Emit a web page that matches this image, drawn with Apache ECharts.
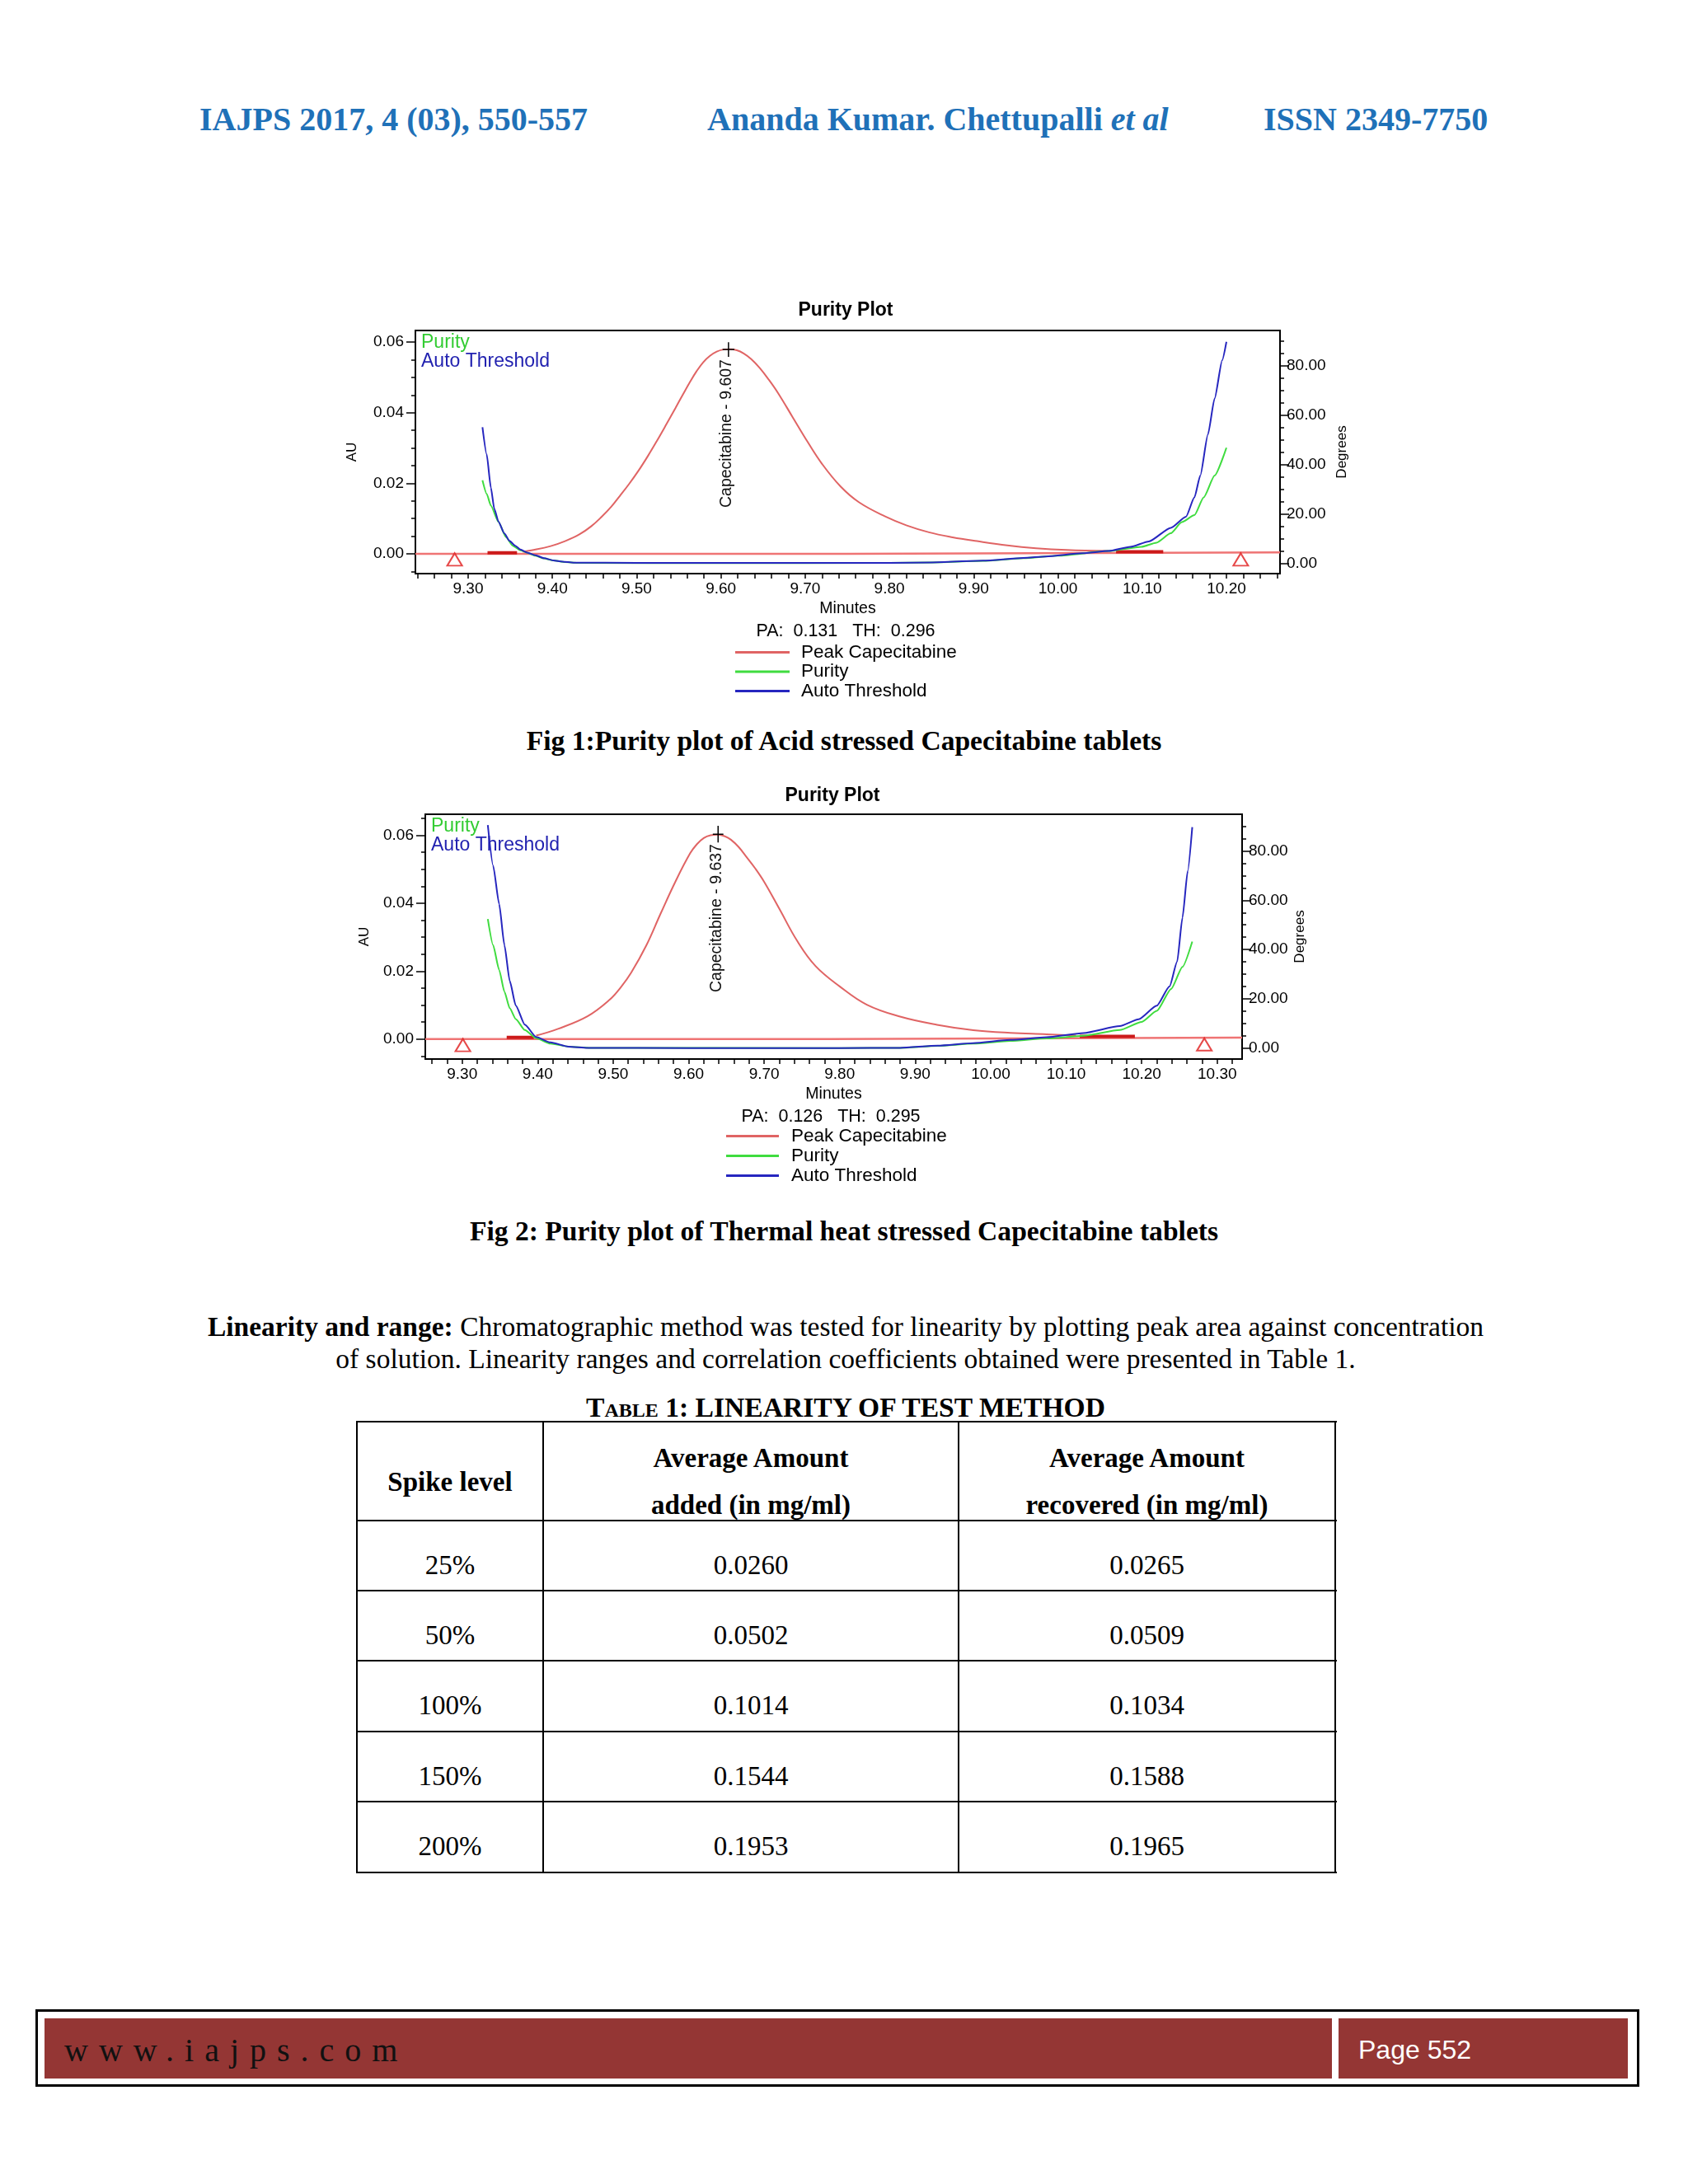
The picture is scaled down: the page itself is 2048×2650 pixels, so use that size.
<!DOCTYPE html>
<html>
<head>
<meta charset="utf-8">
<title>Purity plots - IAJPS page 552</title>
<script src="https://cdn.jsdelivr.net/npm/echarts@6.0.0/dist/echarts.min.js"></script>
<style>
  html, body { margin:0; padding:0; background:#fff; }
  #page { position:relative; width:2048px; height:2650px; background:#fff; overflow:hidden;
          font-family:"Liberation Serif","Times New Roman",serif; color:#000; }
  .t { position:absolute; white-space:nowrap; line-height:1; }
  .hdr { font-size:40px; font-weight:bold; color:#1f71b8; top:125px; }
  .cap { left:0; width:2048px; text-align:center; font-size:33.6px; font-weight:bold; }
  .para { left:2px; width:2048px; text-align:center; font-size:33.5px; }
  .chart { position:absolute; left:0; width:2048px; }
  .hl { position:absolute; height:2px; background:#000; }
  .vl { position:absolute; width:2px; background:#000; }
  .cell { position:absolute; font-size:33px; text-align:center; transform:translate(-50%,-50%);
          white-space:nowrap; line-height:1; }
</style>
</head>
<body>
<div id="page">
  <div class="t hdr" style="left:242px;">IAJPS 2017, 4 (03), 550-557</div>
  <div class="t hdr" style="left:858px;">Ananda Kumar. Chettupalli <i>et al</i></div>
  <div class="t hdr" style="left:1533px;">ISSN 2349-7750</div>

  <div id="chart1" class="chart" style="top:330px;height:540px;"></div>
  <div class="t cap" style="top:882px;">Fig 1:Purity plot of Acid stressed Capecitabine tablets</div>

  <div id="chart2" class="chart" style="top:930px;height:530px;"></div>
  <div class="t cap" style="top:1477px;">Fig 2: Purity plot of Thermal heat stressed Capecitabine tablets</div>

  <div class="t para" style="top:1593px;"><b>Linearity and range:</b> Chromatographic method was tested for linearity by plotting peak area against concentration</div>
  <div class="t para" style="top:1632px;">of solution. Linearity ranges and correlation coefficients obtained were presented in Table 1.</div>

  <div class="t" style="left:2px;width:2048px;text-align:center;top:1691px;font-size:33.6px;font-weight:bold;"><span style="font-variant:small-caps;">Table</span> 1: LINEARITY OF TEST METHOD</div>

  <div style="position:absolute;left:43px;top:2438px;width:1940px;height:88px;border:3px solid #000;"></div>
  <div style="position:absolute;left:54px;top:2449px;width:1562px;height:73px;background:#943634;"></div>
  <div style="position:absolute;left:1624px;top:2449px;width:351px;height:73px;background:#943634;"></div>
  <div class="t" style="left:78px;top:2468px;font-size:40px;letter-spacing:13px;color:#111;">www.iajps.com</div>
  <div class="t" style="left:1648px;top:2471px;font-size:32px;color:#fff;font-family:'Liberation Sans',Arial,sans-serif;">Page 552</div>
</div>

<script>
// ================= DATA =================
// Tick labels (minutes / AU / degrees)
const xMajor1 = [9.30, 9.40, 9.50, 9.60, 9.70, 9.80, 9.90, 10.00, 10.10, 10.20];
const xMajor2 = [9.30, 9.40, 9.50, 9.60, 9.70, 9.80, 9.90, 10.00, 10.10, 10.20, 10.30];
const auMajor = [0.00, 0.02, 0.04, 0.06];
const degMajor = [0, 20, 40, 60, 80];

// ---- Fig 1 (acid stressed) ----
// Peak Capecitabine [minutes, AU]
const peak1 = [
  [9.365,0.0006],[9.375,0.0010],[9.398,0.0022],[9.415,0.0036],[9.432,0.0055],[9.446,0.0078],
  [9.458,0.0104],[9.470,0.0134],[9.480,0.0164],[9.491,0.0198],[9.502,0.0235],[9.513,0.0276],
  [9.524,0.0320],[9.535,0.0366],[9.546,0.0413],[9.555,0.0452],[9.563,0.0486],[9.571,0.0517],
  [9.579,0.0543],[9.587,0.0561],[9.595,0.0573],[9.603,0.0579],[9.611,0.0580],[9.619,0.0577],
  [9.627,0.0568],[9.636,0.0552],[9.646,0.0527],[9.657,0.0493],[9.668,0.0455],[9.685,0.0388],
  [9.703,0.0317],[9.720,0.0255],[9.742,0.0191],[9.764,0.0146],[9.795,0.0106],[9.820,0.0081],
  [9.847,0.0061],[9.875,0.0047],[9.904,0.0036],[9.940,0.0024],[9.974,0.0016],[10.010,0.0011],
  [10.060,0.0008]
];
// Purity angle [minutes, degrees]
const purity1 = [
  [9.317,33.5],[9.322,28.0],[9.327,23.3],[9.336,16.7],[9.345,10.5],[9.353,7.0],[9.362,5.2],
  [9.370,4.2],[9.380,3.0],[9.390,1.9],[9.401,1.1],[9.415,0.4],[9.430,0.1],[9.600,0.0],
  [9.800,0.1],[9.850,0.3],[9.911,0.9],[9.959,2.0],[10.000,3.0],[10.060,4.9],[10.099,6.6],
  [10.117,8.3],[10.134,12.1],[10.147,16.6],[10.162,19.4],[10.173,26.6],[10.186,35.4],[10.200,46.7]
];
// Auto Threshold [minutes, degrees]
const threshold1 = [
  [9.317,55.0],[9.322,44.0],[9.327,30.5],[9.331,22.0],[9.336,16.8],[9.343,12.0],[9.349,9.0],
  [9.356,7.0],[9.362,5.5],[9.370,4.3],[9.380,3.2],[9.390,2.0],[9.401,1.1],[9.412,0.6],
  [9.425,0.2],[9.500,0.1],[9.700,0.1],[9.800,0.1],[9.850,0.3],[9.911,1.0],[9.959,2.1],
  [9.986,2.7],[10.029,4.0],[10.060,4.9],[10.086,6.6],[10.108,8.8],[10.134,14.3],[10.152,18.8],
  [10.162,26.6],[10.169,35.4],[10.178,52.0],[10.186,66.6],[10.195,82.1],[10.200,89.5]
];
const baseline1 = [[9.2374,0],[9.75,0],[9.75,0.0004],[10.2636,0.0004]];
const segLeft1 = [[9.323,0.0003],[9.358,0.0003]];
const segRight1 = [[10.069,0.0006],[10.125,0.0006]];
const triangles1 = [[9.284,-0.0016],[10.217,-0.0016]];
const peakApex1 = {time: 9.607, low: 0.0558, high: 0.0600, cross: 0.0579, labelAU: 0.0341};
const stats1 = {pa: '0.131', th: '0.296'};

// ---- Fig 2 (thermal heat stressed) ----
const peak2 = [
  [9.398,0.0010],[9.427,0.0030],[9.466,0.0067],[9.495,0.0115],[9.510,0.0152],[9.524,0.0196],
  [9.544,0.0276],[9.563,0.0370],[9.583,0.0466],[9.602,0.0547],[9.611,0.0574],[9.620,0.0592],
  [9.629,0.0600],[9.639,0.0602],[9.648,0.0597],[9.656,0.0587],[9.666,0.0566],[9.676,0.0538],
  [9.688,0.0503],[9.700,0.0463],[9.720,0.0384],[9.744,0.0288],[9.768,0.0215],[9.800,0.0155],
  [9.836,0.0101],[9.880,0.0066],[9.929,0.0042],[9.977,0.0026],[10.026,0.0018],[10.074,0.0014],
  [10.113,0.0010]
];
const purity2 = [
  [9.334,52.4],[9.341,41.8],[9.349,31.8],[9.356,22.9],[9.363,16.2],[9.371,11.8],[9.383,7.3],
  [9.398,4.0],[9.417,1.8],[9.441,0.6],[9.470,0.1],[9.800,0.0],[9.880,0.1],[9.930,0.9],
  [9.977,1.8],[10.026,2.9],[10.074,3.9],[10.123,5.0],[10.171,7.3],[10.200,10.6],[10.220,15.1],
  [10.239,24.0],[10.254,32.9],[10.267,43.2]
];
const threshold2 = [
  [9.334,90.5],[9.341,74.1],[9.349,58.5],[9.356,41.8],[9.363,27.3],[9.371,17.3],[9.383,9.5],
  [9.398,4.5],[9.417,2.3],[9.441,0.6],[9.466,0.1],[9.600,0.0],[9.800,0.0],[9.880,0.1],
  [9.930,1.0],[9.977,2.0],[10.026,3.3],[10.074,4.4],[10.123,6.1],[10.171,8.9],[10.196,11.7],
  [10.220,17.2],[10.237,25.1],[10.247,35.1],[10.254,52.9],[10.261,71.9],[10.267,89.7]
];
const baseline2 = [[9.2512,0],[9.79,0],[9.79,0.0004],[10.333,0.0004]];
const segLeft2 = [[9.359,0.0005],[9.395,0.0005]];
const segRight2 = [[10.118,0.0008],[10.191,0.0008]];
const triangles2 = [[9.301,-0.0018],[10.283,-0.0016]];
const peakApex2 = {time: 9.637, low: 0.0579, high: 0.0628, cross: 0.0603, labelAU: 0.0356};
const stats2 = {pa: '0.126', th: '0.295'};

// ---- Table 1 ----
const spikeLevels = ['25%', '50%', '100%', '150%', '200%'];
const amountAdded = ['0.0260', '0.0502', '0.1014', '0.1544', '0.1953'];
const amountRecovered = ['0.0265', '0.0509', '0.1034', '0.1588', '0.1965'];

// ================= CHARTS =================
function steps(a, b, s) {
  const out = [];
  const n0 = Math.ceil(a / s - 1e-9), n1 = Math.floor(b / s + 1e-9);
  for (let n = n0; n <= n1; n++) out.push(+(n * s).toFixed(5));
  return out;
}
const SANS = 'Liberation Sans, Arial, sans-serif';
const RED = '#e06464', GREEN = '#3fdc3f', BLUE = '#2626bf';

function buildOption(c) {
  const tickStyle = {color: '#000', width: 1.5};
  const axisLineStyle = {color: '#000', width: 2};
  const lineSeries = (name, data, color, width, yIdx, z, extra) => Object.assign({
    name: name, type: 'line', data: data, yAxisIndex: yIdx, symbol: 'none', showSymbol: false,
    lineStyle: {color: color, width: width}, itemStyle: {color: color}, z: z, silent: true,
    animation: false
  }, extra || {});
  const minorAxis = (pos, min, max, step) => ({
    type: 'value', position: pos, min: min, max: max,
    axisLine: {show: false, onZero: false},
    axisTick: {show: true, length: 5, customValues: steps(min, max, step), lineStyle: tickStyle},
    axisLabel: {show: false}, splitLine: {show: false}
  });
  return {
    animation: false,
    textStyle: {fontFamily: SANS},
    grid: Object.assign({show: true, borderColor: '#000', borderWidth: 2, backgroundColor: '#fff', containLabel: false}, c.grid),
    xAxis: {
      type: 'value', min: c.xMin, max: c.xMax,
      name: 'Minutes', nameLocation: 'middle', nameGap: c.minGap,
      nameTextStyle: {fontSize: 19.5, color: '#000', fontFamily: SANS},
      axisLine: {show: true, onZero: false, lineStyle: axisLineStyle},
      axisTick: {show: true, inside: false, length: 6, customValues: steps(c.xMin, c.xMax, 0.02), lineStyle: tickStyle},
      axisLabel: {show: true, customValues: c.xMajor, formatter: v => Number(v).toFixed(2), fontSize: 19, color: '#000', margin: 9, fontFamily: SANS},
      splitLine: {show: false}, minorTick: {show: false}
    },
    yAxis: [
      {
        type: 'value', position: 'left', min: c.auMin, max: c.auMax,
        name: 'AU', nameLocation: 'middle', nameGap: c.auGap,
        nameTextStyle: {fontSize: 17, color: '#000', fontFamily: SANS},
        axisLine: {show: true, onZero: false, lineStyle: axisLineStyle},
        axisTick: {show: true, length: 11, customValues: auMajor, lineStyle: tickStyle},
        axisLabel: {show: true, customValues: auMajor, formatter: v => Number(v).toFixed(2), fontSize: 19, color: '#000', margin: 14, fontFamily: SANS},
        splitLine: {show: false}
      },
      {
        type: 'value', position: 'right', min: c.degMin, max: c.degMax,
        name: 'Degrees', nameLocation: 'middle', nameGap: c.degGap,
        nameTextStyle: {fontSize: 17, color: '#000', fontFamily: SANS},
        axisLine: {show: true, onZero: false, lineStyle: axisLineStyle},
        axisTick: {show: true, length: 11, customValues: degMajor, lineStyle: tickStyle},
        axisLabel: {show: true, customValues: degMajor, formatter: v => Number(v).toFixed(2), fontSize: 19, color: '#000', margin: 8, fontFamily: SANS},
        splitLine: {show: false}
      },
      minorAxis('left', c.auMin, c.auMax, 0.005),
      minorAxis('right', c.degMin, c.degMax, 5)
    ],
    legend: {
      orient: 'vertical', left: c.legend.left, top: c.legend.top, padding: 0,
      itemWidth: c.legend.w, itemHeight: 3, itemGap: c.legend.gap, icon: 'rect',
      selectedMode: false,
      textStyle: {fontSize: 22.5, color: '#000', lineHeight: 21, fontFamily: SANS, padding: [0, 0, 0, c.legend.pad]},
      data: ['Peak Capecitabine', 'Purity', 'Auto Threshold']
    },
    graphic: [
      {type: 'text', x: c.title.x, y: c.title.y, silent: true,
       style: {text: 'Purity Plot', fill: '#000', font: 'bold 23px ' + SANS, align: 'center', verticalAlign: 'middle'}},
      {type: 'text', x: c.inner.x, y: c.inner.y1, silent: true, z: 100,
       style: {text: 'Purity', fill: '#33cc33', font: '23px ' + SANS, align: 'left', verticalAlign: 'middle'}},
      {type: 'text', x: c.inner.x, y: c.inner.y2, silent: true, z: 100,
       style: {text: 'Auto Threshold', fill: '#2222b0', font: '23px ' + SANS, align: 'left', verticalAlign: 'middle'}},
      {type: 'text', x: c.pa.x, y: c.pa.y, silent: true,
       style: {text: 'PA:  ' + c.stats.pa + '   TH:  ' + c.stats.th, fill: '#000', font: '21.5px ' + SANS, align: 'center', verticalAlign: 'middle'}}
    ],
    series: [
      lineSeries('baseline', c.baseline, '#ef7474', 2.5, 0, 1),
      lineSeries('segL', c.segL, '#cc1a1a', 4, 0, 2),
      lineSeries('segR', c.segR, '#cc1a1a', 4, 0, 2),
      lineSeries('Peak Capecitabine', c.peak, RED, 2, 0, 3, {smooth: 0.4}),
      lineSeries('Purity', c.purity, GREEN, 2, 1, 4, {smooth: 0.2, smoothMonotone: 'x'}),
      lineSeries('Auto Threshold', c.threshold, BLUE, 2, 1, 5, {smooth: 0.2, smoothMonotone: 'x'}),
      {
        name: 'triangles', type: 'scatter', yAxisIndex: 0, data: c.triangles, symbol: 'triangle',
        symbolSize: [18, 15], itemStyle: {color: '#fff', borderColor: '#e01c1c', borderWidth: 2}, z: 6, silent: true
      },
      lineSeries('apexV', [[c.apex.time + 0.002, c.apex.low], [c.apex.time + 0.002, c.apex.high]], '#000', 1.5, 0, 7),
      lineSeries('apexH', [[c.apex.time - 0.005, c.apex.cross], [c.apex.time + 0.009, c.apex.cross]], '#000', 1.5, 0, 7),
      {
        name: 'apexLabel', type: 'scatter', yAxisIndex: 0, data: [[c.apex.time, c.apex.labelAU]],
        symbol: 'circle', symbolSize: 2, itemStyle: {color: 'rgba(255,255,255,0)'}, z: 8, silent: true,
        label: {show: true, position: 'inside', rotate: 90, formatter: c.apexText, fontSize: 19.5,
                color: '#111', fontFamily: SANS, opacity: 1},
        labelLayout: {hideOverlap: false}
      }
    ]
  };
}

const chart1 = echarts.init(document.getElementById('chart1'), null, {renderer: 'canvas'});
chart1.setOption(buildOption({
  grid: {left: 504, top: 71, width: 1049, height: 295},
  xMin: 9.2374, xMax: 10.2636, auMin: -0.0056, auMax: 0.0633, degMin: -4.23, degMax: 94.1,
  xMajor: xMajor1, minGap: 32, auGap: 68, degGap: 67,
  title: {x: 1026, y: 47}, inner: {x: 511, y1: 86, y2: 109}, pa: {x: 1026, y: 436},
  legend: {left: 892, top: 450, w: 66, pad: 9, gap: 0.5},
  stats: stats1, peak: peak1, purity: purity1, threshold: threshold1, baseline: baseline1,
  segL: segLeft1, segR: segRight1, triangles: triangles1, apex: peakApex1,
  apexText: 'Capecitabine - ' + peakApex1.time.toFixed(3)
}));

const chart2 = echarts.init(document.getElementById('chart2'), null, {renderer: 'canvas'});
chart2.setOption(buildOption({
  grid: {left: 516, top: 58, width: 991, height: 297},
  xMin: 9.2512, xMax: 10.333, auMin: -0.0059, auMax: 0.0662, degMin: -4.45, degMax: 94.9,
  xMajor: xMajor2, minGap: 31, auGap: 65, degGap: 62,
  title: {x: 1010, y: 36}, inner: {x: 523, y1: 73, y2: 96}, pa: {x: 1008, y: 425},
  legend: {left: 881, top: 437, w: 64, pad: 10, gap: 1},
  stats: stats2, peak: peak2, purity: purity2, threshold: threshold2, baseline: baseline2,
  segL: segLeft2, segR: segRight2, triangles: triangles2, apex: peakApex2,
  apexText: 'Capecitabine - ' + peakApex2.time.toFixed(3)
}));

// ================= TABLE =================
(function buildTable() {
  const page = document.getElementById('page');
  const colX = [433, 659, 1163, 1620];
  const rowY = [1725, 1845, 1930, 2015, 2101, 2186, 2272];
  function add(cls, css, html) {
    const d = document.createElement('div');
    d.className = cls; d.style.cssText = css;
    if (html != null) d.innerHTML = html;
    page.appendChild(d);
  }
  rowY.forEach(y => add('hl', `left:${colX[0]}px;top:${y - 1}px;width:${colX[3] - colX[0] + 2}px;`));
  colX.forEach(x => add('vl', `left:${x - 1}px;top:${rowY[0] - 1}px;height:${rowY[6] - rowY[0] + 2}px;`));
  const cx = [(colX[0] + colX[1]) / 2, (colX[1] + colX[2]) / 2, (colX[2] + colX[3]) / 2];
  add('cell', `left:${cx[0]}px;top:1798px;font-weight:bold;`, 'Spike level');
  add('cell', `left:${cx[1]}px;top:1769px;font-weight:bold;`, 'Average Amount');
  add('cell', `left:${cx[1]}px;top:1826px;font-weight:bold;`, 'added (in mg/ml)');
  add('cell', `left:${cx[2]}px;top:1769px;font-weight:bold;`, 'Average Amount');
  add('cell', `left:${cx[2]}px;top:1826px;font-weight:bold;`, 'recovered (in mg/ml)');
  for (let i = 0; i < spikeLevels.length; i++) {
    const yc = (rowY[i + 1] + rowY[i + 2]) / 2 + 11;
    add('cell', `left:${cx[0]}px;top:${yc}px;`, spikeLevels[i]);
    add('cell', `left:${cx[1]}px;top:${yc}px;`, amountAdded[i]);
    add('cell', `left:${cx[2]}px;top:${yc}px;`, amountRecovered[i]);
  }
})();
</script>
</body>
</html>
